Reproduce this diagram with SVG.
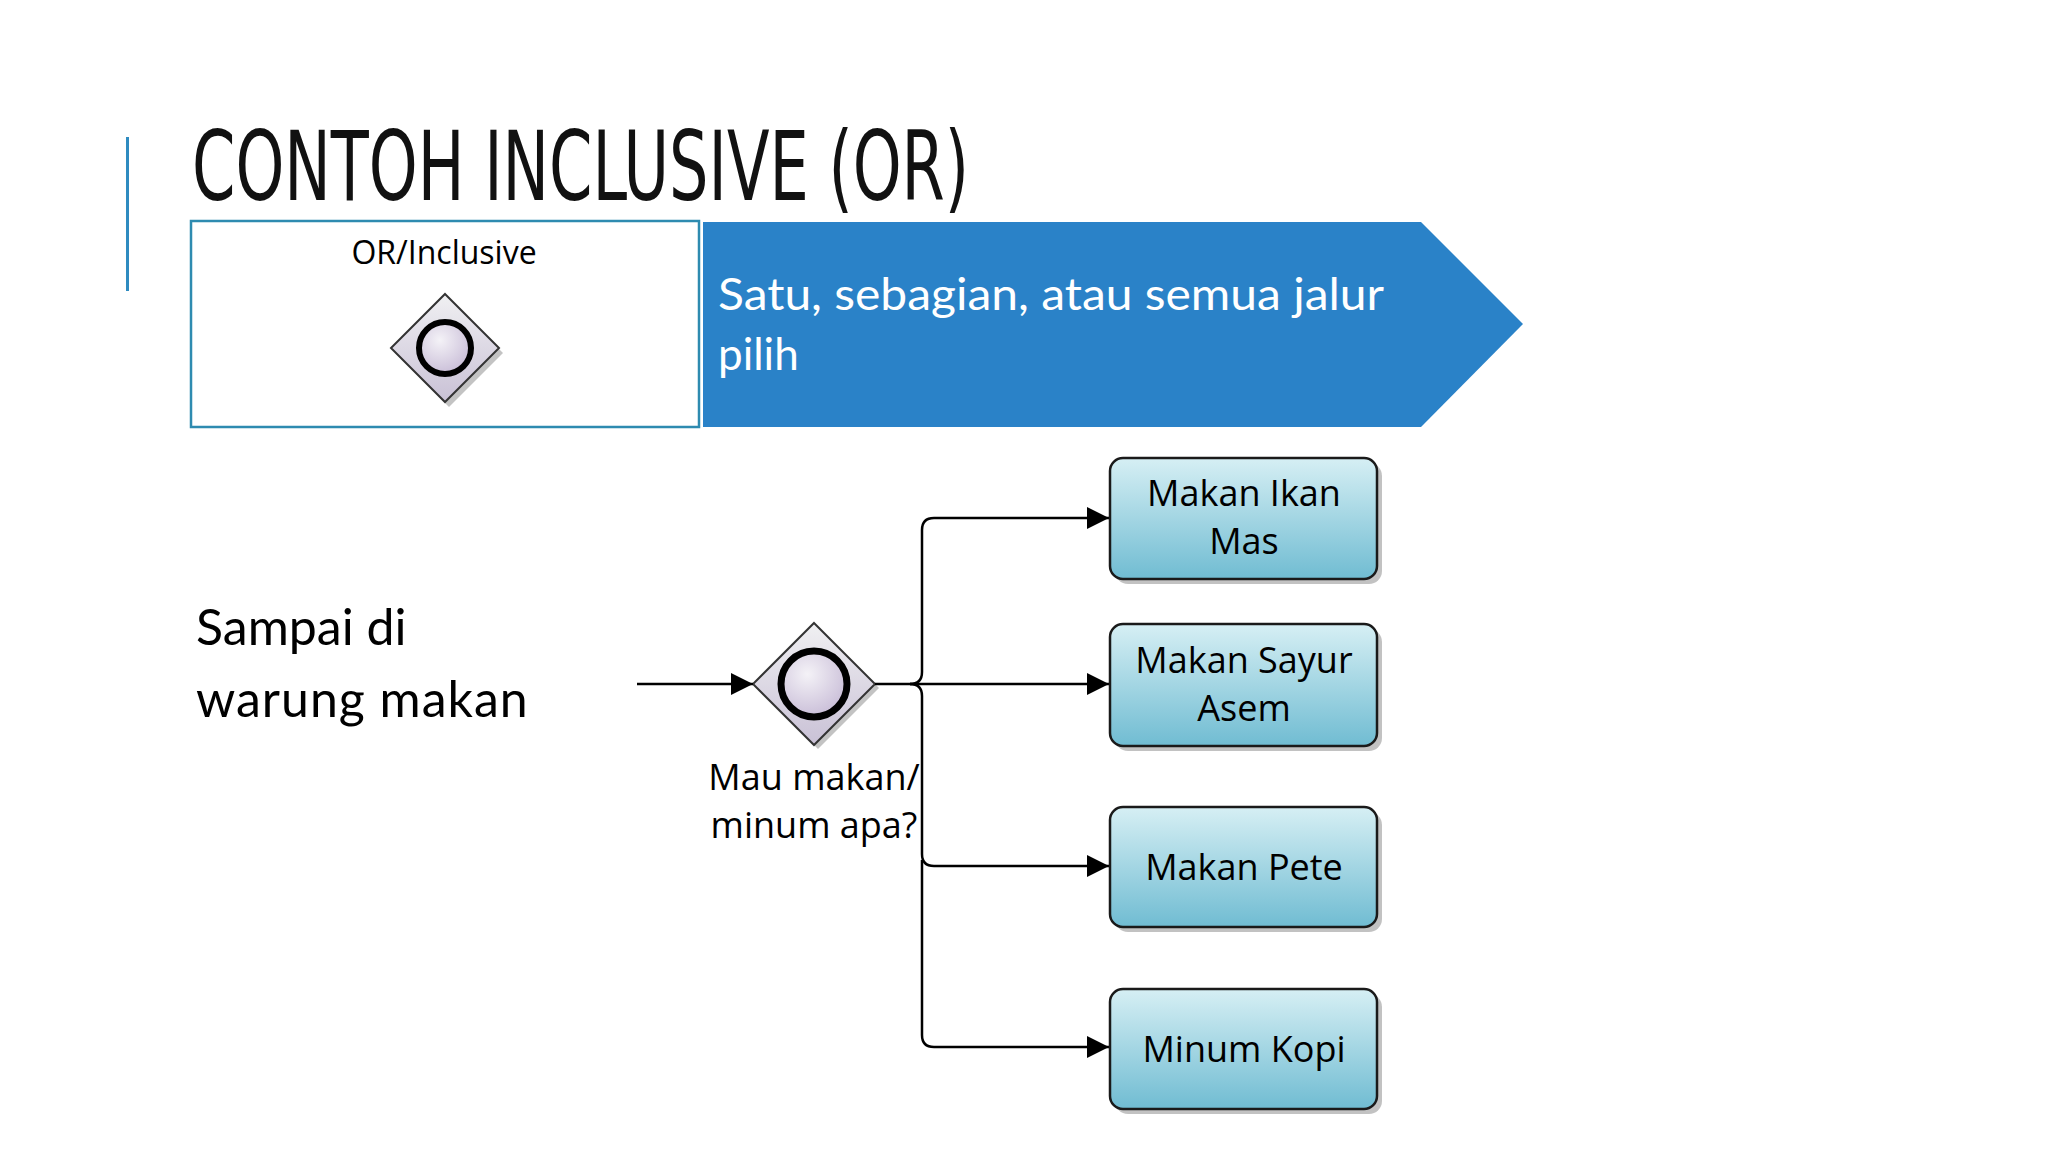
<svg xmlns="http://www.w3.org/2000/svg" width="2048" height="1152" viewBox="0 0 2048 1152">
<defs>
<linearGradient id="bg" x1="0" y1="0" x2="0" y2="1"><stop offset="0" stop-color="#D6EFF4"/><stop offset="1" stop-color="#70BCD2"/></linearGradient>
<radialGradient id="cg" cx="0.4" cy="0.35" r="0.7"><stop offset="0" stop-color="#F4F2F7"/><stop offset="1" stop-color="#C7BBD6"/></radialGradient>
<linearGradient id="dg" x1="0" y1="0" x2="0" y2="1"><stop offset="0" stop-color="#F0F0F2"/><stop offset="1" stop-color="#C9C1D6"/></linearGradient>
<marker id="ah" markerWidth="22" markerHeight="22" refX="22" refY="11" orient="auto" markerUnits="userSpaceOnUse" viewBox="0 0 22 22"><path d="M0,0 L22,11 L0,22 z" fill="#000"/></marker>
<style>
.t{font-family:"Open Sans","DejaVu Sans",sans-serif;fill:#000}
.box{fill:url(#bg);stroke:#1a1a1a;stroke-width:2.5}
.sh{fill:#999;opacity:0.6}
.c{fill:none;stroke:#000;stroke-width:2.5}
.bt{font-family:"Open Sans","DejaVu Sans",sans-serif;font-size:36px;text-anchor:middle;fill:#000}
</style>
</defs>
<rect width="2048" height="1152" fill="#FFFFFF"/>
<rect x="126" y="137" width="3" height="154" fill="#2E8BC0"/>
<text x="192" y="200" font-family="DejaVu Sans Condensed,sans-serif" font-size="96" textLength="777" lengthAdjust="spacingAndGlyphs" fill="#111">CONTOH INCLUSIVE (OR)</text>

<g id="legend">
<rect x="191" y="221" width="508" height="206" fill="#FFFFFF" stroke="#2E8BB0" stroke-width="2.5"/>
<text x="444" y="264" class="t" font-size="32" text-anchor="middle">OR/Inclusive</text>
<polygon points="449,299 503,353 449,407 395,353" fill="#888" opacity="0.5"/>
<polygon points="445,294 499,348 445,402 391,348" fill="url(#dg)" stroke="#333" stroke-width="2"/>
<circle cx="445" cy="348" r="26" fill="url(#cg)" stroke="#000" stroke-width="6"/>
</g>
<g id="banner">
<polygon points="703,222 1421,222 1523,324 1421,427 703,427" fill="#2A82C8"/>
<text x="718" y="310" font-family="Lato,'Open Sans',sans-serif" font-size="44" fill="#FFFFFF" textLength="666" lengthAdjust="spacingAndGlyphs">Satu, sebagian, atau semua jalur</text>
<text x="718" y="370" font-family="Lato,'Open Sans',sans-serif" font-size="44" fill="#FFFFFF">pilih</text>
</g>
<g id="start">
<text x="196" y="645" font-family="Lato,'Open Sans',sans-serif" font-size="50">Sampai di</text>
<text x="196" y="717" font-family="Lato,'Open Sans',sans-serif" font-size="50" letter-spacing="1">warung makan</text>
</g>
<g id="gateway">
<polygon points="818,627 879,688 818,749 757,688" fill="#888" opacity="0.5"/>
<polygon points="814,623 875,684 814,745 753,684" fill="url(#dg)" stroke="#333" stroke-width="2"/>
<circle cx="814" cy="684" r="33" fill="url(#cg)" stroke="#000" stroke-width="7"/>
<text x="814" y="790" class="bt">Mau makan/</text>
<text x="814" y="838" class="bt">minum apa?</text>
</g>
<g id="connectors">
<line x1="637" y1="684" x2="753" y2="684" class="c" marker-end="url(#ah)"/>
<path d="M875,684 H1109" class="c" marker-end="url(#ah)"/>
<path d="M910,684 Q922,684 922,672 V530 Q922,518 934,518 H1109" class="c" marker-end="url(#ah)"/>
<path d="M910,684 Q922,684 922,696 V854 Q922,866 934,866 H1109" class="c" marker-end="url(#ah)"/>
<path d="M922,860 V1035 Q922,1047 934,1047 H1109" class="c" marker-end="url(#ah)"/>
</g>
<g id="n1"><rect x="1115" y="463" width="267" height="121" rx="13" class="sh"/><rect x="1110" y="458" width="267" height="121" rx="13" class="box"/><text x="1244" y="506" class="bt">Makan Ikan</text><text x="1244" y="554" class="bt">Mas</text></g>
<g id="n2"><rect x="1115" y="629" width="267" height="122" rx="13" class="sh"/><rect x="1110" y="624" width="267" height="122" rx="13" class="box"/><text x="1244" y="673" class="bt">Makan Sayur</text><text x="1244" y="721" class="bt">Asem</text></g>
<g id="n3"><rect x="1115" y="812" width="267" height="120" rx="13" class="sh"/><rect x="1110" y="807" width="267" height="120" rx="13" class="box"/><text x="1244" y="880" class="bt">Makan Pete</text></g>
<g id="n4"><rect x="1115" y="994" width="267" height="120" rx="13" class="sh"/><rect x="1110" y="989" width="267" height="120" rx="13" class="box"/><text x="1244" y="1062" class="bt">Minum Kopi</text></g>
</svg>
